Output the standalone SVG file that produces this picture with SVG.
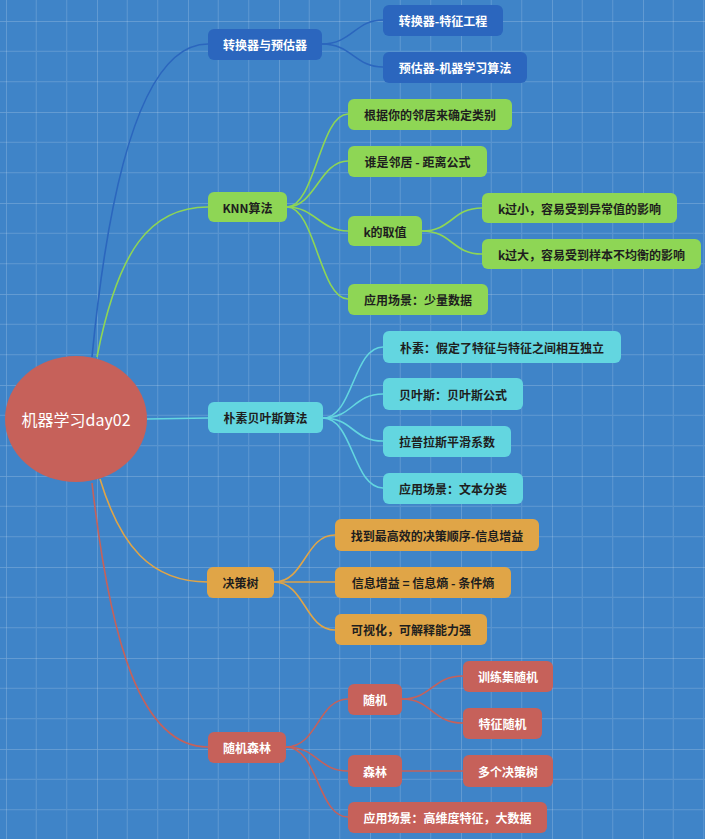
<svg xmlns="http://www.w3.org/2000/svg" width="705" height="839" viewBox="0 0 705 839">
<defs>
<pattern id="grid" patternUnits="userSpaceOnUse" x="6" y="21" width="91" height="91">
<path d="M30.33 0V91M60.67 0V91M0 30.33H91M0 60.67H91" stroke="#ffffff" stroke-opacity="0.13" stroke-width="1.2" fill="none"/>
<path d="M0 0V91M0 0H91" stroke="#ffffff" stroke-opacity="0.25" stroke-width="1.4" fill="none"/>
</pattern>
</defs>
<style>
text{font-family:"Noto Sans CJK SC","Liberation Sans",sans-serif;font-size:12px;font-weight:bold;text-anchor:middle;dominant-baseline:central}
.c{fill:none;stroke-width:1.6}
.cb{stroke:#2b66be}.cg{stroke:#8ed655}.cc{stroke:#63d6e0}.co{stroke:#e0a547}.cr{stroke:#c6615a}
.nb rect{fill:#2b66be}.nb text{fill:#ffffff}
.ng rect{fill:#8ed655}.ng text{fill:#1e1e1e}
.nc rect{fill:#63d6e0}.nc text{fill:#1e1e1e}
.no rect{fill:#e0a547}.no text{fill:#1e1e1e}
.nr rect{fill:#c6615a}.nr text{fill:#ffffff}
</style>
<rect width="705" height="839" fill="#3f84c8"/>
<rect width="705" height="839" fill="url(#grid)"/>
<g id="connectors">
<path class="c cb" d="M92,357 C112,150 150,44 208,44"/>
<path class="c cg" d="M97,357 C118,250 150,207 208,207"/>
<path class="c cc" d="M147,419 L208,418"/>
<path class="c co" d="M100,479 C120,545 150,582 208,582"/>
<path class="c cr" d="M92,483 C110,640 140,747 208,747"/>
<path class="c cb" d="M322,44 C352,44 355,20 383,20"/>
<path class="c cb" d="M322,44 C352,44 355,67 383,67"/>
<path class="c cg" d="M287,207 C315,207 320,114 348,114"/>
<path class="c cg" d="M287,207 C315,207 320,161 348,161"/>
<path class="c cg" d="M287,207 C315,207 320,231 348,231"/>
<path class="c cg" d="M287,207 C315,207 320,299 348,299"/>
<path class="c cg" d="M422,231 C452,231 452,208 482,208"/>
<path class="c cg" d="M422,231 C452,231 452,254 482,254"/>
<path class="c cc" d="M323,418 C353,418 353,347 383,347"/>
<path class="c cc" d="M323,418 C353,418 353,394 383,394"/>
<path class="c cc" d="M323,418 C353,418 353,441 383,441"/>
<path class="c cc" d="M323,418 C353,418 353,488 383,488"/>
<path class="c co" d="M274,582 C305,582 305,535 335,535"/>
<path class="c co" d="M274,582 C305,582 305,582 335,582"/>
<path class="c co" d="M274,582 C305,582 305,630 335,630"/>
<path class="c cr" d="M286,747 C318,747 318,699 348,699"/>
<path class="c cr" d="M286,747 C318,747 318,771 348,771"/>
<path class="c cr" d="M286,747 C318,747 318,817 348,817"/>
<path class="c cr" d="M402,699 C432,699 432,676 463,676"/>
<path class="c cr" d="M402,699 C432,699 432,723 463,723"/>
<path class="c cr" d="M402,771 C432,771 432,771 463,771"/>
</g>
<g id="root">
<ellipse cx="76" cy="419" rx="71" ry="63" fill="#c6615a"/>
<text x="76" y="419" fill="#ffffff" style="font-size:16px;font-weight:normal">机器学习day02</text>
</g>
<g id="n1" class="nb"><rect x="208" y="29" width="114" height="31" rx="6"/><text x="265" y="44.5">转换器与预估器</text></g>
<g id="n1a" class="nb"><rect x="383" y="5" width="120" height="31" rx="6"/><text x="443" y="20.5">转换器-特征工程</text></g>
<g id="n1b" class="nb"><rect x="383" y="52" width="144" height="31" rx="6"/><text x="455" y="67.5">预估器-机器学习算法</text></g>
<g id="n2" class="ng"><rect x="208" y="192" width="79" height="30" rx="6"/><text x="247.5" y="207">KNN算法</text></g>
<g id="n2a" class="ng"><rect x="348" y="99" width="164" height="31" rx="6"/><text x="430" y="114.5">根据你的邻居来确定类别</text></g>
<g id="n2b" class="ng"><rect x="348" y="146" width="139" height="31" rx="6"/><text x="417.5" y="161.5">谁是邻居 - 距离公式</text></g>
<g id="n2c" class="ng"><rect x="348" y="216" width="74" height="30" rx="6"/><text x="385" y="231">k的取值</text></g>
<g id="n2c1" class="ng"><rect x="482" y="193" width="195" height="30" rx="6"/><text x="579.5" y="208">k过小，容易受到异常值的影响</text></g>
<g id="n2c2" class="ng"><rect x="482" y="239" width="219" height="30" rx="6"/><text x="591.5" y="254">k过大，容易受到样本不均衡的影响</text></g>
<g id="n2d" class="ng"><rect x="348" y="284" width="140" height="31" rx="6"/><text x="418" y="299.5">应用场景：少量数据</text></g>
<g id="n3" class="nc"><rect x="208" y="402" width="115" height="31" rx="6"/><text x="265.5" y="417.5">朴素贝叶斯算法</text></g>
<g id="n3a" class="nc"><rect x="383" y="331" width="238" height="32" rx="6"/><text x="502" y="347">朴素：假定了特征与特征之间相互独立</text></g>
<g id="n3b" class="nc"><rect x="383" y="378" width="140" height="32" rx="6"/><text x="453" y="394">贝叶斯：贝叶斯公式</text></g>
<g id="n3c" class="nc"><rect x="383" y="426" width="128" height="31" rx="6"/><text x="447" y="441.5">拉普拉斯平滑系数</text></g>
<g id="n3d" class="nc"><rect x="383" y="473" width="140" height="31" rx="6"/><text x="453" y="488.5">应用场景：文本分类</text></g>
<g id="n4" class="no"><rect x="207" y="567" width="67" height="31" rx="6"/><text x="240.5" y="582.5">决策树</text></g>
<g id="n4a" class="no"><rect x="335" y="519" width="204" height="32" rx="6"/><text x="437" y="535">找到最高效的决策顺序-信息增益</text></g>
<g id="n4b" class="no"><rect x="335" y="567" width="176" height="31" rx="6"/><text x="423" y="582.5">信息增益 = 信息熵 - 条件熵</text></g>
<g id="n4c" class="no"><rect x="335" y="614" width="152" height="31" rx="6"/><text x="411" y="629.5">可视化，可解释能力强</text></g>
<g id="n5" class="nr"><rect x="208" y="732" width="78" height="31" rx="6"/><text x="247" y="747.5">随机森林</text></g>
<g id="n5a" class="nr"><rect x="348" y="684" width="54" height="31" rx="6"/><text x="375" y="699.5">随机</text></g>
<g id="n5a1" class="nr"><rect x="463" y="661" width="90" height="31" rx="6"/><text x="508" y="676.5">训练集随机</text></g>
<g id="n5a2" class="nr"><rect x="463" y="708" width="79" height="31" rx="6"/><text x="502.5" y="723.5">特征随机</text></g>
<g id="n5b" class="nr"><rect x="348" y="755" width="54" height="32" rx="6"/><text x="375" y="771">森林</text></g>
<g id="n5b1" class="nr"><rect x="463" y="755" width="90" height="32" rx="6"/><text x="508" y="771">多个决策树</text></g>
<g id="n5c" class="nr"><rect x="348" y="802" width="199" height="31" rx="6"/><text x="447.5" y="817.5">应用场景：高维度特征，大数据</text></g>
</svg>
